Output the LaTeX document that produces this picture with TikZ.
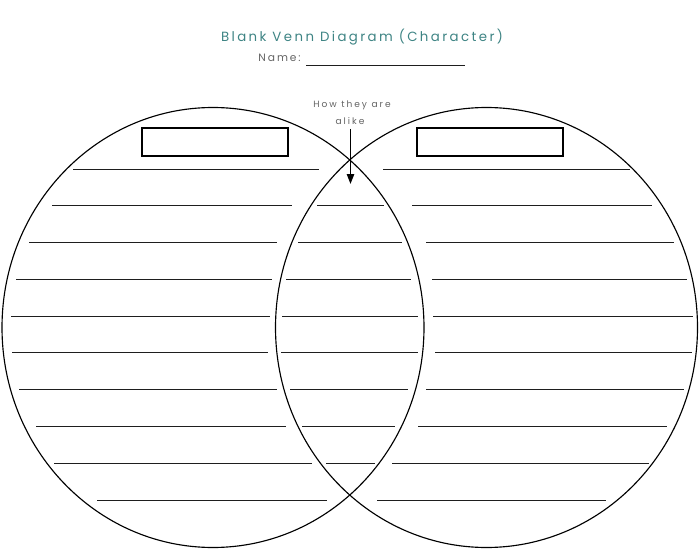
\documentclass[tikz,border=0pt]{standalone}
\usepackage{fontspec}
\setmainfont{Poppins}
\newfontfamily\spaced[LetterSpace=18]{Poppins}
\newfontfamily\spacedsmall[LetterSpace=22]{Poppins}
\usetikzlibrary{arrows.meta}
\definecolor{titleteal}{RGB}{62,132,132}
\definecolor{textgray}{RGB}{100,100,100}
\definecolor{linegray}{RGB}{30,30,30}
\begin{document}
\begin{tikzpicture}[x=0.75pt,y=-0.75pt,
  ring/.style={draw=black,line width=0.85pt},
  writeline/.style={draw=linegray,line width=1.1pt},
  namebox/.style={draw=black,line width=1.3pt,minimum width=109.5pt,minimum height=21pt,inner sep=0pt},
  smalltext/.style={font=\spacedsmall\fontsize{6.8pt}{8pt}\selectfont,text=textgray,inner sep=0pt},
  pointer/.style={draw=black,line width=1.1pt,-{Triangle[length=7.5pt,width=5.5pt]}}]
\useasboundingbox (0,0) rectangle (700,560);
% title
\node[font=\spaced\fontsize{10pt}{12pt}\selectfont,text=titleteal,inner sep=0pt] (title) at (362,37) {Blank Venn Diagram (Character)};
\node[font=\spaced\fontsize{8pt}{9pt}\selectfont,text=textgray,inner sep=0pt,anchor=east] (name) at (301,58) {Name:};
\coordinate (ulA) at (306,65.5);
\coordinate (ulB) at (465,65.5);
\draw[linegray,line width=1pt] (ulA) -- (ulB);
% circles
\draw[ring] (213,327.5) ellipse [x radius=158.25pt, y radius=165pt];
\draw[ring] (486.5,327.5) ellipse [x radius=158.25pt, y radius=165pt];
% boxes
\node[namebox] (boxL) at (215,142) {};
\node[namebox] (boxR) at (490,142) {};
% label and arrow
\node[smalltext] (how) at (352,105) {How they are};
\node[smalltext] (alike) at (350,121) {alike};
\coordinate (arrA) at (350.5,129);
\coordinate (arrB) at (350.5,184);
\draw[pointer] (arrA) -- (arrB);
% writing lines
\foreach \y/\la/\lb in {169.5/73/319, 205.5/52/292, 242.5/29/277, 279.5/16/272, 316.5/11/270, 352.5/12/268, 389.5/19/277, 426.5/36/286, 463.5/54/312, 500.5/97/327}
  {\draw[writeline] (\la,\y) -- (\lb,\y);}
\foreach \y/\ma/\mb in {205.5/317/384, 242.5/298/402, 279.5/286/411, 316.5/282/418, 352.5/281/418, 389.5/290/408, 426.5/302/395, 463.5/326/375}
  {\draw[writeline] (\ma,\y) -- (\mb,\y);}
\foreach \y/\ra/\rb in {169.5/383/630, 205.5/412/652, 242.5/426/674, 279.5/432/687, 316.5/433/693, 352.5/435/692, 389.5/426/684, 426.5/418/667, 463.5/392/649, 500.5/377/606}
  {\draw[writeline] (\ra,\y) -- (\rb,\y);}
\end{tikzpicture}
\end{document}
